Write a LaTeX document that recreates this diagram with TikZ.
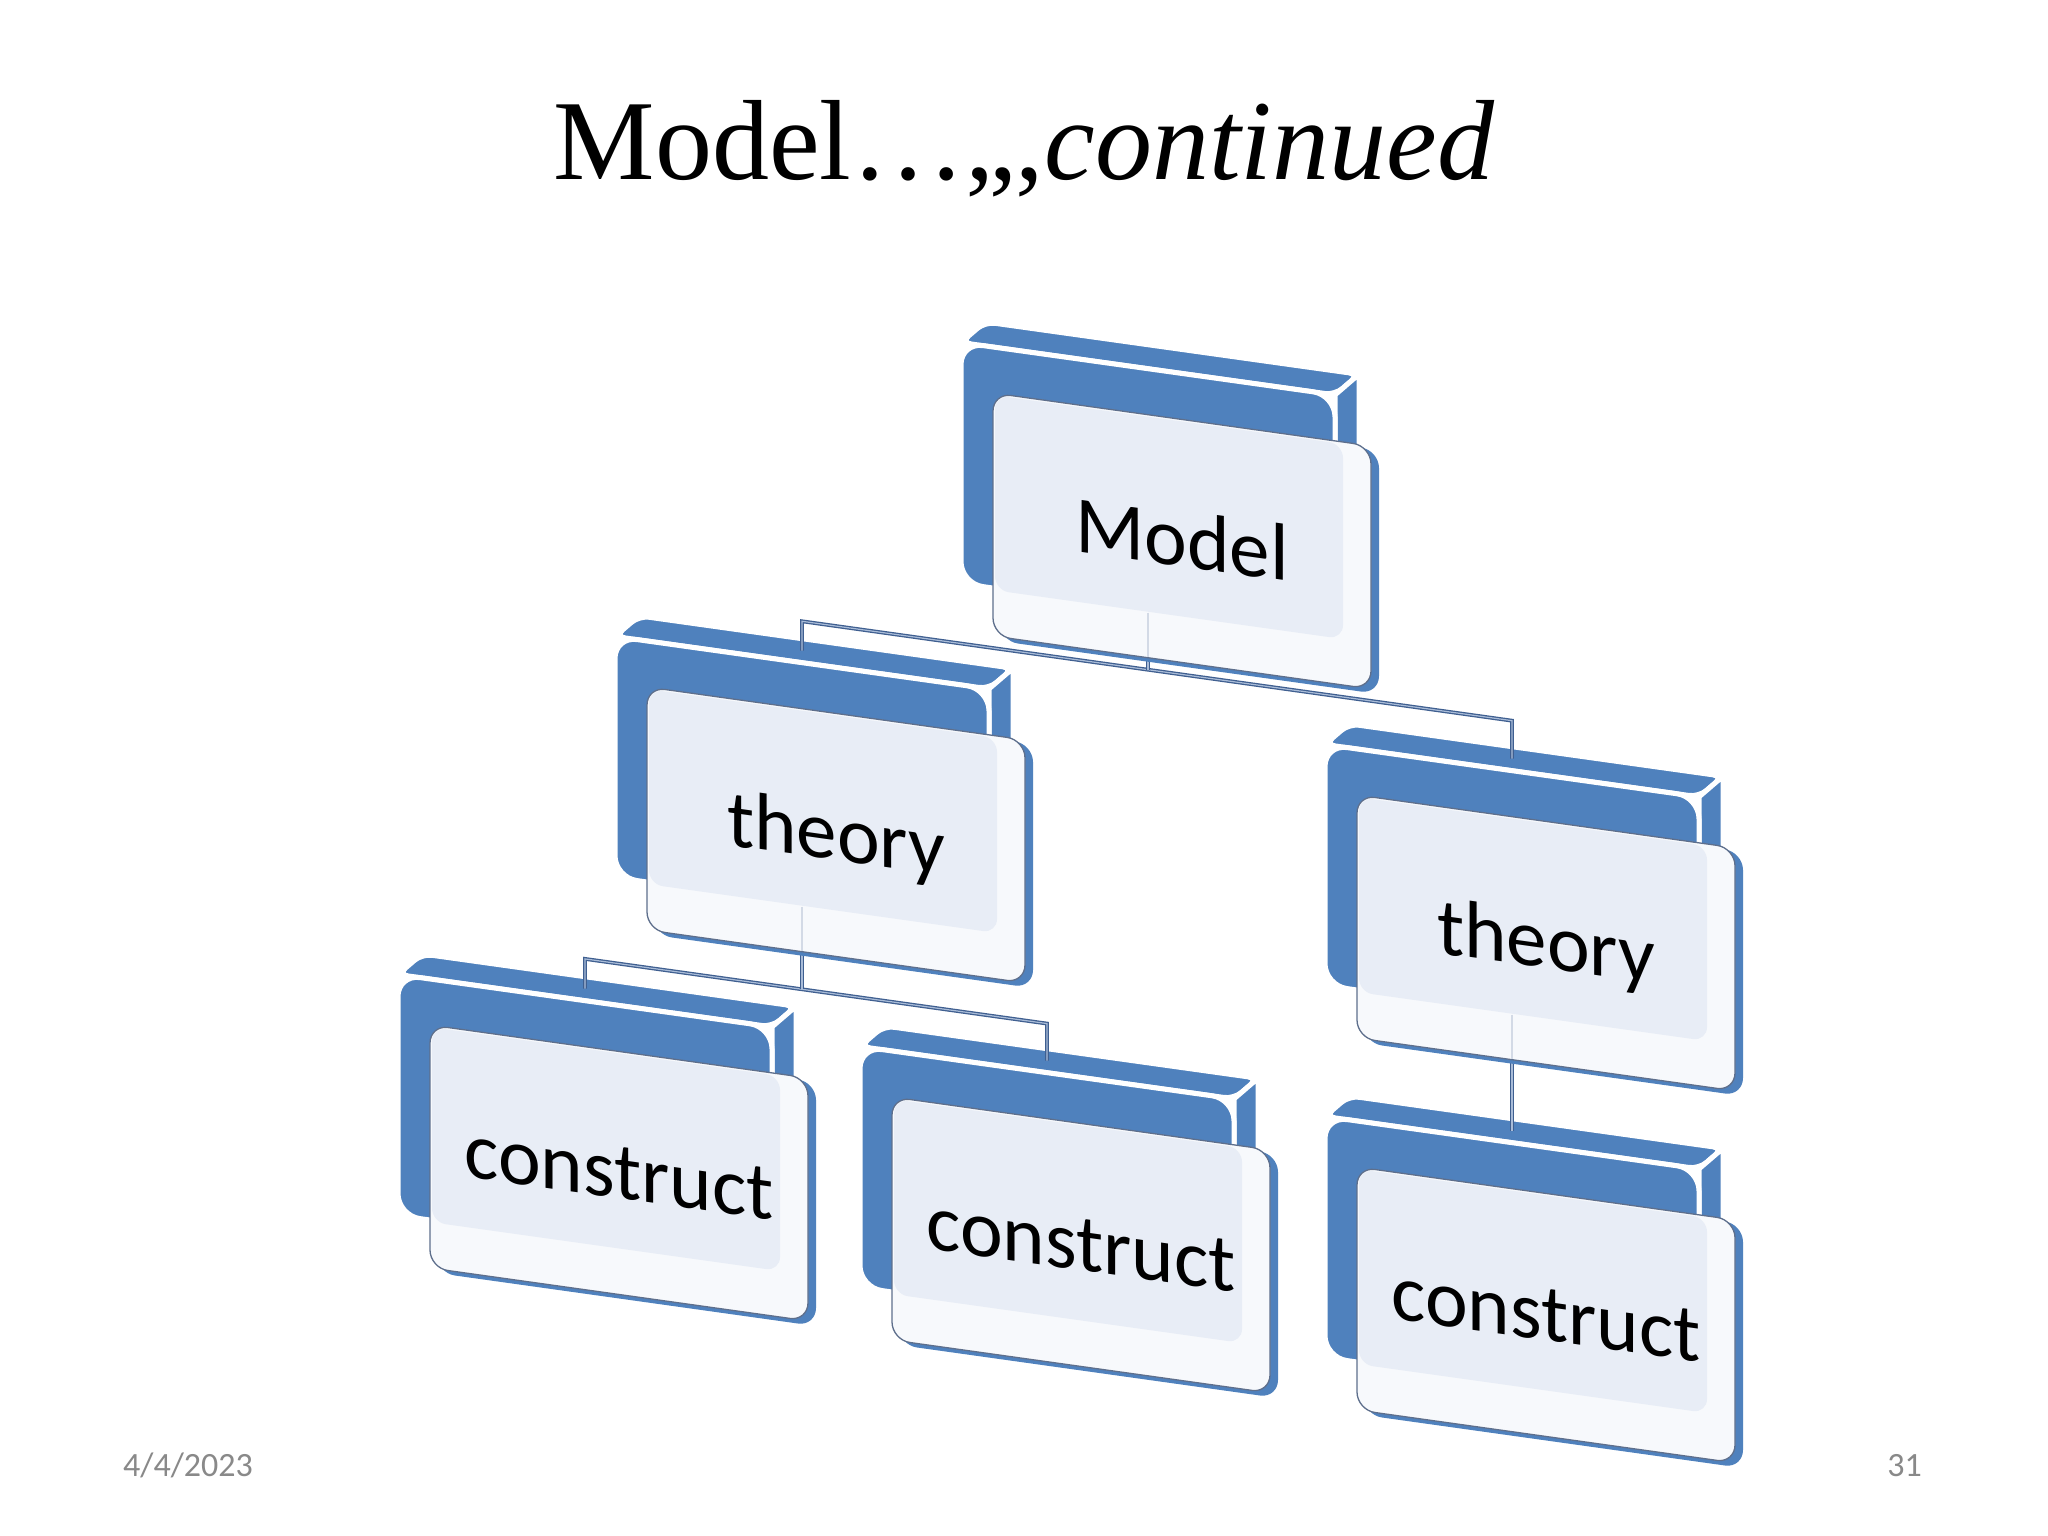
\documentclass[tikz,border=0pt]{standalone}
\usepackage{fontspec}
\setmainfont{Liberation Serif}
\newfontfamily\calib{Carlito}
\definecolor{accblue}{HTML}{4F81BD}
\definecolor{connblue}{HTML}{3F5F90}
\definecolor{connlight}{HTML}{A9BCD8}
\definecolor{panelbg}{HTML}{F7F9FC}
\definecolor{panelhi}{HTML}{E8EDF6}
\definecolor{panelline}{HTML}{5E6F8C}
\definecolor{footgray}{HTML}{898989}
\definecolor{faint}{HTML}{D3DAE6}
\tikzset{
  slabface/.style={fill=accblue, draw=white, line width=5pt, line join=round},
  panelbox/.style={rounded corners=18pt},
  boxtext/.style={transform shape, anchor=base, inner sep=0pt, font=\calib\fontsize{81}{96}\selectfont},
  conn/.style={draw=connblue, line width=1.3pt, double=connlight, double distance=1.2pt},
  faintline/.style={draw=faint, line width=2pt}
}
\newcommand{\boxback}[3]{%
  \begin{scope}[shift={(#2,#3)}]
    \filldraw[slabface, rounded corners=10pt] (-32,-46) -- (-8,-70) -- (366,-70) -- (342,-46) -- cycle;
    \filldraw[slabface] (342,-46) -- (366,-70) -- (366,172) -- (342,195) -- cycle;
    \filldraw[slabface, rounded corners=22pt] (-32,-46) rectangle (342,195);
    \coordinate (#1-top) at (155,-58);
    \coordinate (#1-bot) at (155,195);
  \end{scope}}
\newcommand{\boxfront}[4]{%
  \begin{scope}[shift={(#2,#3)}]
    \fill[accblue, panelbox] (7,3) rectangle (386,247);
    \fill[panelbg, panelbox] (0,0) rectangle (378,243);
    \fill[panelhi, rounded corners=14pt] (2,2) rectangle (350,197);
    \draw[panelline, line width=1.3pt, panelbox] (0,0) rectangle (378,243);
    \node[boxtext] (#1) at (189,147) {#4};
  \end{scope}}
\newcommand{\parentmark}[2]{%
  \begin{scope}[shift={(#1,#2)}]
    \draw[faintline] (155,198) -- (155,242);
  \end{scope}}
\begin{document}
\begin{tikzpicture}[x=1pt,y=-1pt]
\useasboundingbox (0,0) rectangle (2048,1536);
\fill[white] (0,0) rectangle (2048,1536);

\node[anchor=base, inner sep=0pt, font=\fontsize{114}{130}\selectfont] (title) at (1024,179) {Model…,,,\textit{continued}};

\begin{scope}[yslant=-0.14]
  % back slabs
  \boxback{model}{993}{254.0}
  \boxback{theoryL}{647}{596.4}
  \boxback{theoryR}{1357}{605.0}
  \boxback{cA}{430}{964.8}
  \boxback{cB}{892}{972.1}
  \boxback{cC}{1357}{977.0}
  % connector corner points
  \coordinate (b1L) at (802,509);
  \coordinate (b1M) at (1148,509);
  \coordinate (b1R) at (1512,509);
  \coordinate (b2L) at (585,877);
  \coordinate (b2M) at (802,877);
  \coordinate (b2R) at (1047,877);
  % connectors
  \draw[conn] (theoryL-top) -- (b1L) -- (b1R) -- (theoryR-top);
  \draw[conn] (model-bot) -- (b1M);
  \draw[conn] (cA-top) -- (b2L) -- (b2R) -- (cB-top);
  \draw[conn] (theoryL-bot) -- (b2M);
  \draw[conn] (theoryR-bot) -- (cC-top);
  % front panels
  \boxfront{model}{993}{254.0}{Model}
  \boxfront{theoryL}{647}{596.4}{theory}
  \boxfront{theoryR}{1357}{605.0}{theory}
  \boxfront{cA}{430}{964.8}{construct}
  \boxfront{cB}{892}{972.1}{construct}
  \boxfront{cC}{1357}{977.0}{construct}
  \parentmark{993}{254.0}
  \parentmark{647}{596.4}
  \parentmark{1357}{605.0}
\end{scope}

\node[anchor=base west, inner sep=0pt, text=footgray, font=\calib\fontsize{34}{40}\selectfont] (date) at (123,1476) {4/4/2023};
\node[anchor=base east, inner sep=0pt, text=footgray, font=\calib\fontsize{34}{40}\selectfont] (pagenum) at (1922,1476) {31};
\end{tikzpicture}
\end{document}
